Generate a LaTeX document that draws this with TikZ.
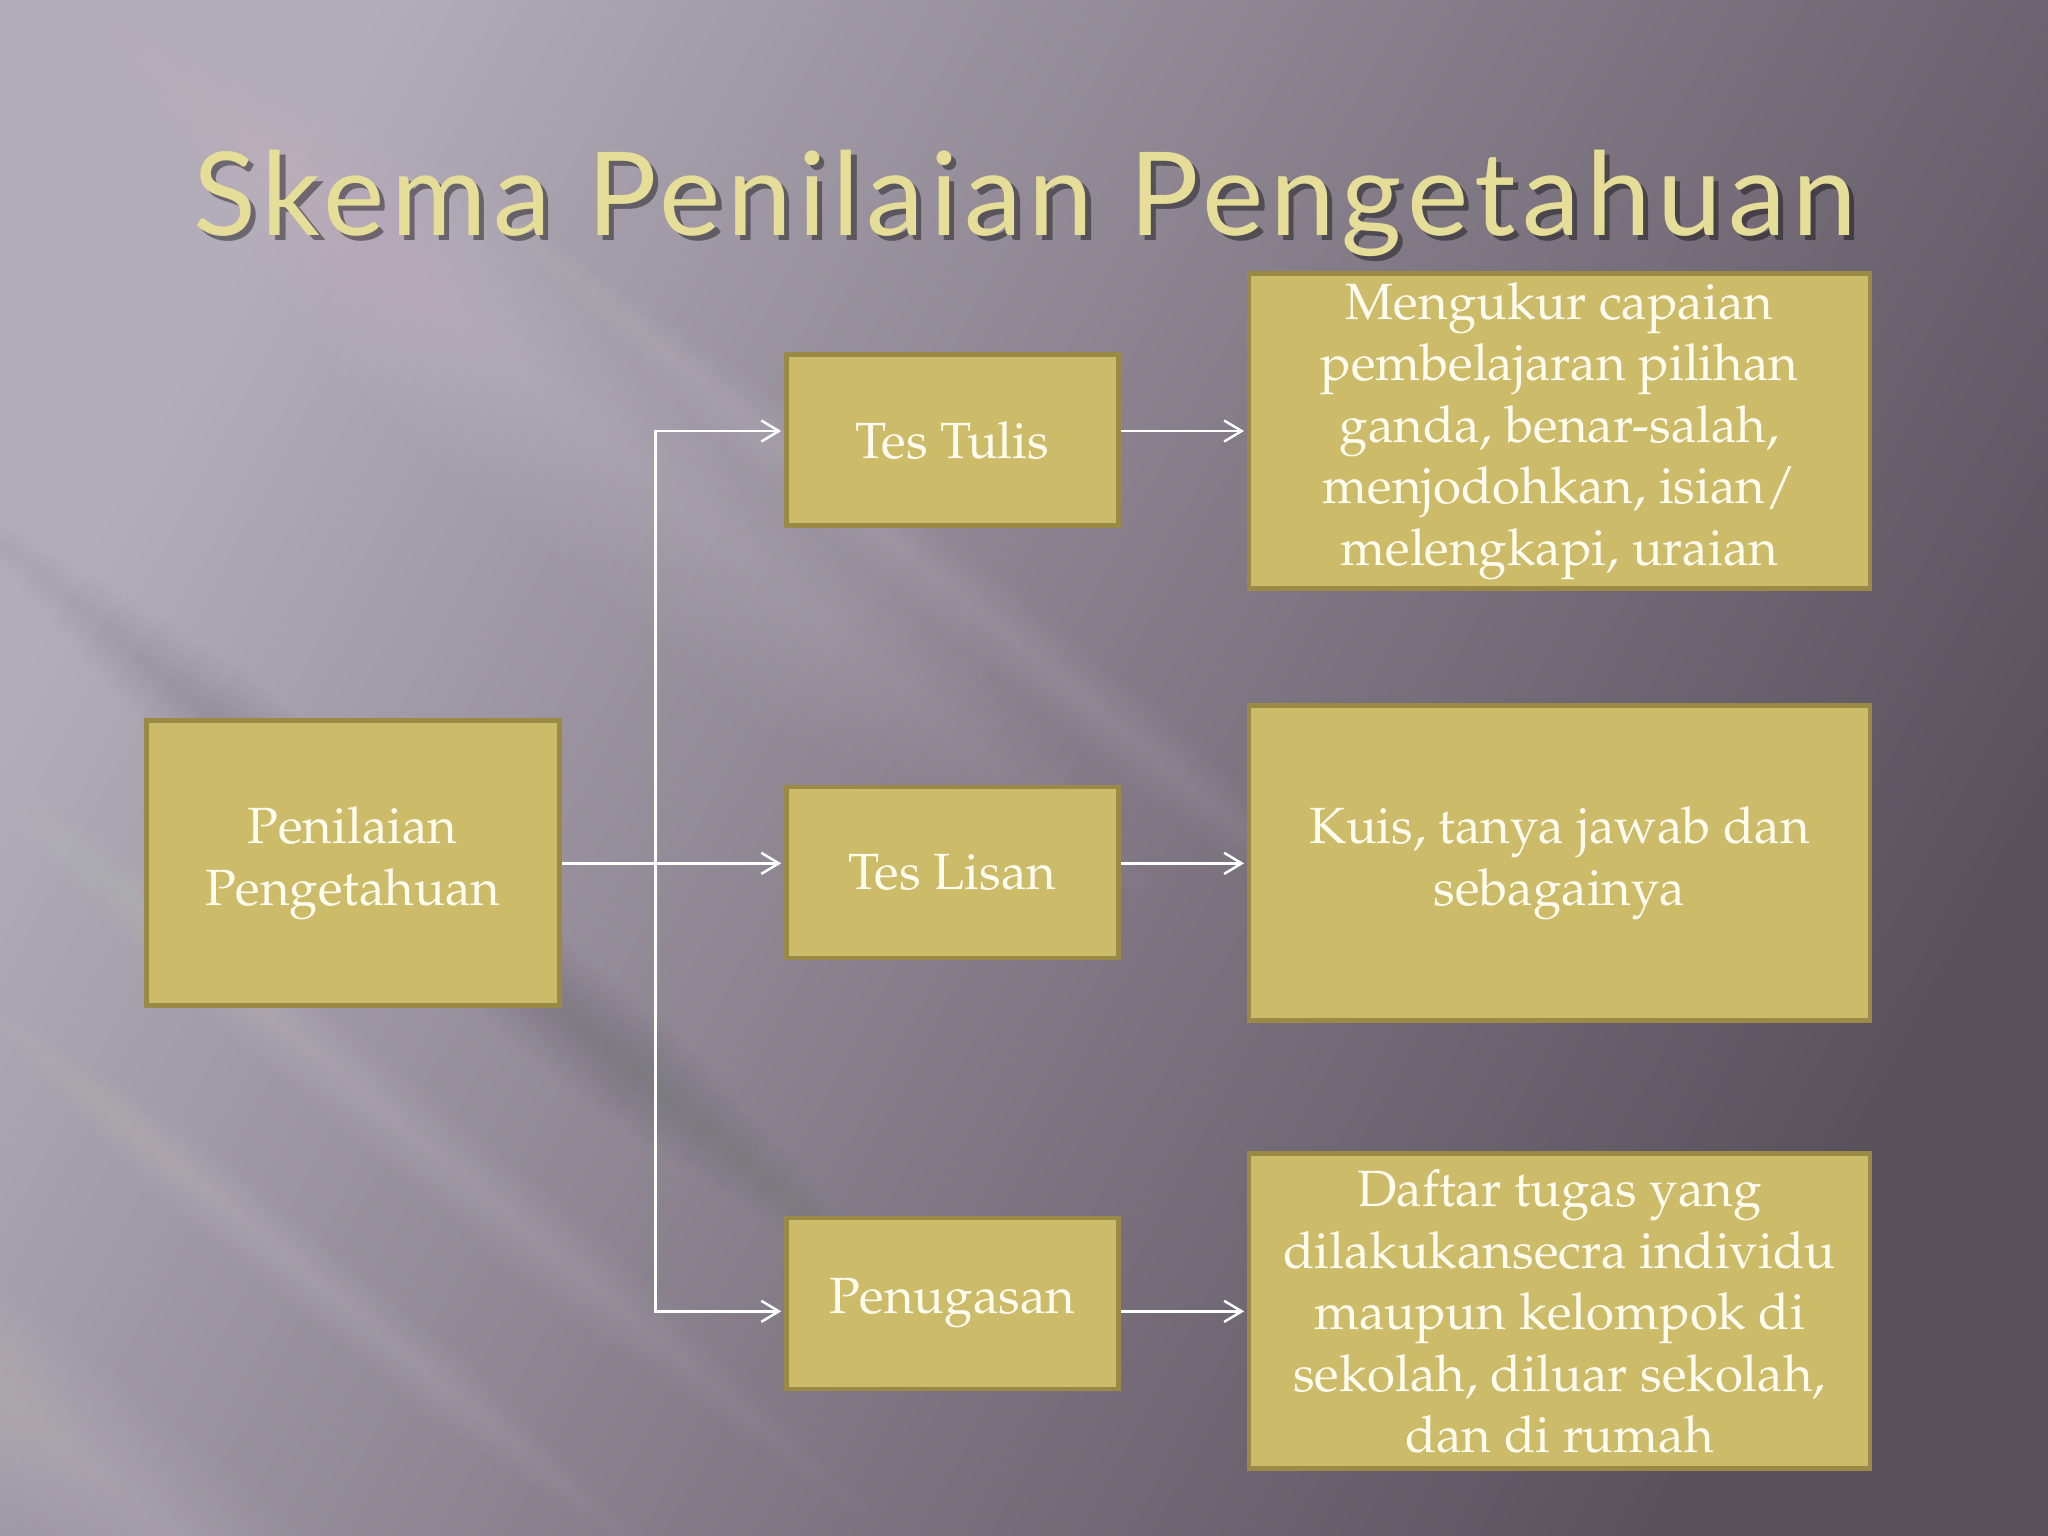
\documentclass[tikz,border=0pt]{standalone}
\usepackage[T1]{fontenc}
\usepackage{fontspec}
\usepackage{tikz}
\usetikzlibrary{calc}
\usetikzlibrary{positioning}
\usetikzlibrary{arrows.meta}

\newfontfamily\titlefont[LetterSpace=5.5]{Lato}
\newcommand{\boxfont}{\fontencoding{T1}\fontfamily{ppl}\fontsize{14.5}{17.5}\selectfont}

\definecolor{bgleft}{HTML}{B3ADB9}
\definecolor{bgright}{HTML}{58505B}
\definecolor{glow}{HTML}{EADAEA}
\definecolor{boxfill}{HTML}{CCBB68}
\definecolor{boxline}{HTML}{9B8A46}
\definecolor{boxtext}{HTML}{FFFBEF}
\definecolor{titlecol}{HTML}{E6DD98}

\begin{document}
\begin{tikzpicture}[x=0.013061cm,y=-0.013061cm,
    box/.style={draw=boxline,line width=1.4pt,fill=boxfill,text=boxtext,
      align=center,inner sep=0pt,font=\boxfont},
    small/.style={box,minimum width=3.32cm,minimum height=1.71cm},
    desc/.style={box,minimum width=6.21cm,minimum height=3.15cm},
    conn/.style={draw=white,line width=0.7pt},
    arr/.style={conn,-{Straight Barb[length=5pt,width=6pt]},shorten >=0.7pt},
    titletext/.style={anchor=base,font=\titlefont\fontsize{33}{36}\selectfont}]

      % background
      \shade[top color=bgleft,bottom color=bgright,shading angle=62] (0,0) rectangle (1568,1176);
      \useasboundingbox (0,0) rectangle (1568,1176);
      % soft diagonal streaks: start x/y, end x/y, half width (pt), opacity, colour
      \foreach \xa/\ya/\xb/\yb/\w/\o/\c in {60/0/900/700/34/0.02/glow, 330/120/1150/800/11/0.013/white,
          -100/520/700/1190/12/0.013/white, -50/740/520/1210/10/0.013/white,
          -100/330/750/1040/16/0.009/black, -200/900/400/1400/25/0.012/white}
        \foreach \k in {1,...,10} {
          \coordinate (sa) at ($(\xa,\ya)!\k*0.03!(\xb,\yb)$);
          \coordinate (sb) at ($(\xb,\yb)!\k*0.03!(\xa,\ya)$);
          \fill[\c,opacity=\o]
            ($(sa)!\k*\w pt/10!90:(sb)$) -- ($(sb)!\k*\w pt/10!-90:(sa)$)
            -- ($(sb)!\k*\w pt/10!90:(sa)$) -- ($(sa)!\k*\w pt/10!-90:(sb)$) -- cycle;
        }

      % title
      \node[titletext,text=black,opacity=0.4] (titleshadow) at (789,184) {Skema Penilaian Pengetahuan};
      \node[titletext,text=titlecol] (title) at (785,180) {Skema Penilaian Pengetahuan};

      % boxes
      \node[box,minimum width=4.13cm,minimum height=2.85cm] (root) at (270,661) {Penilaian\\Pengetahuan};
      \node[small] (tulis) at (729,337) {Tes Tulis};
      \node[small] (lisan) at (729,668) {Tes Lisan};
      \node[small] (tugas) at (729,998) {Penugasan};
      \node[desc] (dtulis) at (1194,330) {Mengukur capaian\\pembelajaran pilihan\\ganda, benar-salah,\\menjodohkan, isian/\\melengkapi, uraian};
      \node[desc] (dlisan) at (1194,661) {Kuis, tanya jawab dan\\sebagainya};
      \node[desc] (dtugas) at (1194,1004) {Daftar tugas yang\\dilakukansecra individu\\maupun kelompok di\\sekolah, diluar sekolah,\\dan di rumah};

      % connectors
      \coordinate (trunk) at (502,661);
      \draw[conn] (root.east) -- (trunk);
      \draw[arr] (trunk) |- (tulis.west |- dtulis.west);
      \draw[arr] (trunk) -- (lisan.west |- dlisan.west);
      \draw[arr] (trunk) |- (tugas.west |- dtugas.west);
      \draw[arr] (tulis.east |- dtulis.west) -- (dtulis.west);
      \draw[arr] (lisan.east |- dlisan.west) -- (dlisan.west);
      \draw[arr] (tugas.east |- dtugas.west) -- (dtugas.west);
    \end{tikzpicture}
\end{document}
